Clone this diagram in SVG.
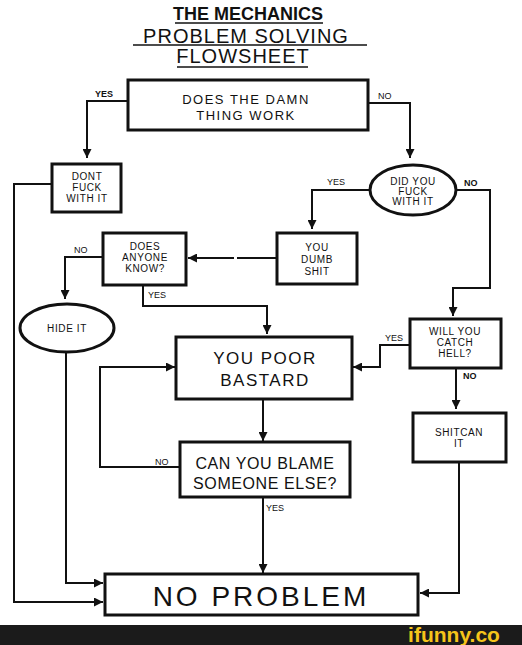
<svg xmlns="http://www.w3.org/2000/svg" width="522" height="645" viewBox="0 0 522 645">
<defs>
<marker id="arr" viewBox="0 0 10 10" refX="10" refY="5" markerWidth="9" markerHeight="9" markerUnits="userSpaceOnUse" orient="auto">
<path d="M0,0 L10,5 L0,10 z" fill="#111"/>
</marker>
</defs>
<style>
.box{fill:#fff;stroke:#111;stroke-width:3}
.ln{fill:none;stroke:#111;stroke-width:2}
.dash{stroke-dasharray:40 3}
text{font-family:"Liberation Sans",Arial,sans-serif;fill:#111;text-anchor:middle}
.t{font-size:13px;letter-spacing:1.5px}
.s{font-size:10px;letter-spacing:0.6px}
.m{font-size:17px;letter-spacing:1.5px}
.m2{font-size:16px;letter-spacing:0.6px}
.lbl{font-size:9px;text-anchor:start}
.ttl{font-size:20px;letter-spacing:1px}
</style>
<rect width="522" height="645" fill="#fff"/>
<g id="title">
<text x="248" y="20" font-weight="bold" font-size="18">THE MECHANICS</text>
<line x1="175" y1="23" x2="323" y2="23" stroke="#111" stroke-width="1.5"/>
<text x="246" y="43" class="ttl">PROBLEM SOLVING</text>
<line x1="133" y1="45" x2="367" y2="45" stroke="#111" stroke-width="1.5"/>
<text x="243" y="63" class="ttl">FLOWSHEET</text>
<line x1="177" y1="67" x2="308" y2="67" stroke="#111" stroke-width="1.5"/>
</g>
<g id="connectors">
<polyline class="ln" points="128,101 87,101 87,158" marker-end="url(#arr)"/>
<text x="95" y="97" class="lbl" font-weight="bold">YES</text>
<polyline class="ln" points="368,103 410,103 410,158" marker-end="url(#arr)"/>
<text x="378" y="99" class="lbl">NO</text>
<polyline class="ln" points="52,184 14,184 14,602 103,602" marker-end="url(#arr)"/>
<polyline class="ln" points="370,190 312,190 312,229" marker-end="url(#arr)"/>
<text x="327" y="185" class="lbl">YES</text>
<polyline class="ln" points="457,190 490,190 490,288 453,288 453,316" marker-end="url(#arr)"/>
<text x="464" y="186" class="lbl" font-weight="bold">NO</text>
<line class="ln dash" x1="277" y1="258" x2="188" y2="258" marker-end="url(#arr)"/>
<polyline class="ln" points="103,257 65,257 65,299" marker-end="url(#arr)"/>
<text x="74" y="253" class="lbl">NO</text>
<polyline class="ln" points="143,285 143,306 267,306 267,334" marker-end="url(#arr)"/>
<text x="148" y="298" class="lbl">YES</text>
<polyline class="ln" points="66,352 66,583 103,583" marker-end="url(#arr)"/>
<polyline class="ln" points="410,345 380,345 380,367 353,367" marker-end="url(#arr)"/>
<text x="385" y="341" class="lbl">YES</text>
<line class="ln" x1="456" y1="368" x2="456" y2="409" marker-end="url(#arr)"/>
<text x="463" y="379" class="lbl" font-weight="bold">NO</text>
<polyline class="ln" points="459,462 459,593 420,593" marker-end="url(#arr)"/>
<line class="ln" x1="263" y1="399" x2="263" y2="441" marker-end="url(#arr)"/>
<polyline class="ln" points="180,467 100,467 100,367 175,367" marker-end="url(#arr)"/>
<text x="155" y="465" class="lbl">NO</text>
<line class="ln" x1="263" y1="497" x2="263" y2="573" marker-end="url(#arr)"/>
<text x="266" y="511" class="lbl">YES</text>
</g>
<g id="n-work">
<rect class="box" x="128" y="80" width="240" height="50"/>
<text x="246" y="104" class="t">DOES THE DAMN</text>
<text x="246" y="120" class="t">THING WORK</text>
</g>
<g id="n-dont">
<rect class="box" x="52" y="164" width="69" height="48"/>
<text x="87" y="180" class="s">DONT</text>
<text x="87" y="191" class="s">FUCK</text>
<text x="87" y="202" class="s">WITH IT</text>
</g>
<g id="n-didyou">
<ellipse class="box" cx="413" cy="190" rx="43" ry="25"/>
<text x="413" y="185" class="s">DID YOU</text>
<text x="413" y="195" class="s">FUCK</text>
<text x="413" y="205" class="s">WITH IT</text>
</g>
<g id="n-dumb">
<rect class="box" x="277" y="233" width="80" height="51"/>
<text x="317" y="251" class="s">YOU</text>
<text x="317" y="263" class="s">DUMB</text>
<text x="317" y="275" class="s">SHIT</text>
</g>
<g id="n-anyone">
<rect class="box" x="103" y="233" width="83" height="52"/>
<text x="145" y="250" class="s">DOES</text>
<text x="145" y="261" class="s">ANYONE</text>
<text x="145" y="272" class="s">KNOW?</text>
</g>
<g id="n-hide">
<ellipse class="box" cx="67" cy="328" rx="47" ry="24"/>
<text x="67" y="332" class="s">HIDE IT</text>
</g>
<g id="n-poor">
<rect class="box" x="176" y="337" width="176" height="62"/>
<text x="265" y="364" class="m">YOU POOR</text>
<text x="265" y="386" class="m">BASTARD</text>
</g>
<g id="n-hell">
<rect class="box" x="410" y="319" width="91" height="49"/>
<text x="455" y="335" class="s">WILL YOU</text>
<text x="455" y="346" class="s">CATCH</text>
<text x="455" y="357" class="s">HELL?</text>
</g>
<g id="n-shitcan">
<rect class="box" x="413" y="413" width="93" height="49"/>
<text x="459" y="436" class="s">SHITCAN</text>
<text x="459" y="447" class="s">IT</text>
</g>
<g id="n-blame">
<rect class="box" x="180" y="442" width="170" height="55"/>
<text x="265" y="469" class="m2">CAN YOU BLAME</text>
<text x="265" y="489" class="m2">SOMEONE ELSE?</text>
</g>
<g id="n-noproblem">
<rect class="box" x="105" y="574" width="313" height="41"/>
<text x="261" y="606" font-size="28" letter-spacing="3">NO  PROBLEM</text>
</g>
<g id="watermark">
<rect x="0" y="625" width="522" height="20" fill="#1b1b1b"/>
<text x="454" y="642" font-size="21" font-weight="bold" style="fill:#f5c41a">ifunny.co</text>
</g>
</svg>
